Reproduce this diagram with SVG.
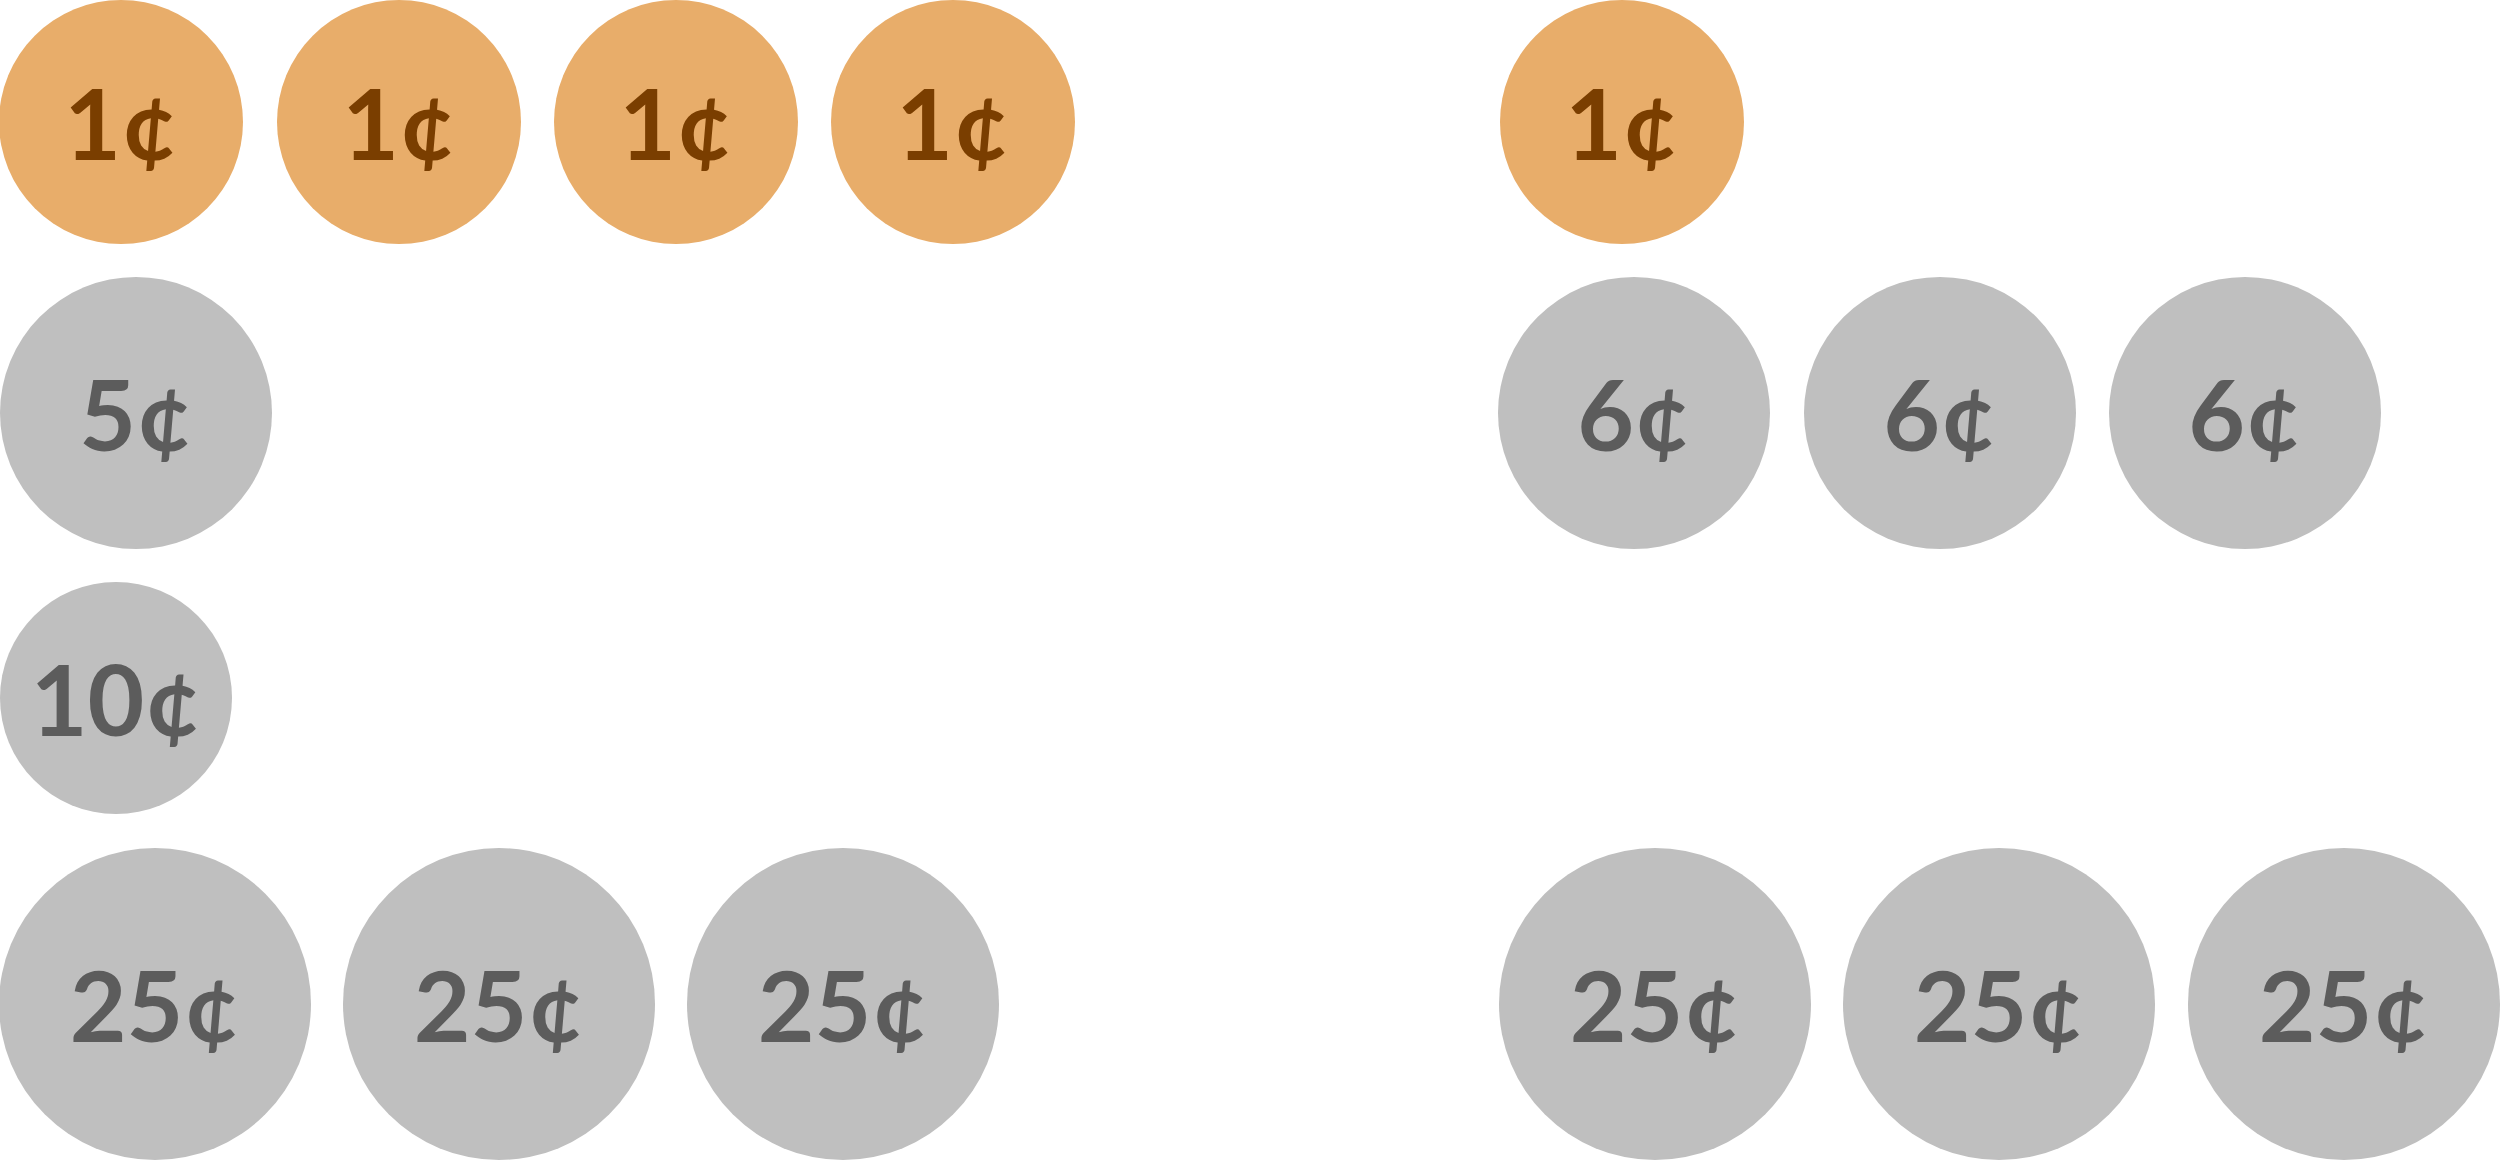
<svg xmlns="http://www.w3.org/2000/svg" width="2500" height="1160" viewBox="0 0 2500 1160">
<style>
.p{fill:#e8ad6a}.g{fill:#bfbfbf}
text{font-family:Lato,"Liberation Sans",sans-serif;font-weight:bold;font-size:98px;text-anchor:middle;dominant-baseline:central}
.pt{fill:#7a3e00}.gt{fill:#5c5c5c}
</style>
<rect width="2500" height="1160" fill="#fff"/>
<g id="p1"><circle class="p" cx="121" cy="122" r="122"/><text class="pt" x="121" y="122">1¢</text></g>
<g id="p2"><circle class="p" cx="399" cy="122" r="122"/><text class="pt" x="399" y="122">1¢</text></g>
<g id="p3"><circle class="p" cx="676" cy="122" r="122"/><text class="pt" x="676" y="122">1¢</text></g>
<g id="p4"><circle class="p" cx="953" cy="122" r="122"/><text class="pt" x="953" y="122">1¢</text></g>
<g id="p5"><circle class="p" cx="1622" cy="122" r="122"/><text class="pt" x="1622" y="122">1¢</text></g>
<g id="n5"><circle class="g" cx="136" cy="413" r="136"/><text class="gt" x="136" y="413">5¢</text></g>
<g id="s1"><circle class="g" cx="1634" cy="413" r="136"/><text class="gt" x="1634" y="413">6¢</text></g>
<g id="s2"><circle class="g" cx="1940" cy="413" r="136"/><text class="gt" x="1940" y="413">6¢</text></g>
<g id="s3"><circle class="g" cx="2245" cy="413" r="136"/><text class="gt" x="2245" y="413">6¢</text></g>
<g id="d10"><circle class="g" cx="116" cy="698" r="116"/><text class="gt" x="116" y="698">10¢</text></g>
<g id="q1"><circle class="g" cx="155" cy="1004" r="156"/><text class="gt" x="155" y="1004">25¢</text></g>
<g id="q2"><circle class="g" cx="499" cy="1004" r="156"/><text class="gt" x="499" y="1004">25¢</text></g>
<g id="q3"><circle class="g" cx="843" cy="1004" r="156"/><text class="gt" x="843" y="1004">25¢</text></g>
<g id="q4"><circle class="g" cx="1655" cy="1004" r="156"/><text class="gt" x="1655" y="1004">25¢</text></g>
<g id="q5"><circle class="g" cx="1999" cy="1004" r="156"/><text class="gt" x="1999" y="1004">25¢</text></g>
<g id="q6"><circle class="g" cx="2344" cy="1004" r="156"/><text class="gt" x="2344" y="1004">25¢</text></g>
<g id="connectors"/>
</svg>
